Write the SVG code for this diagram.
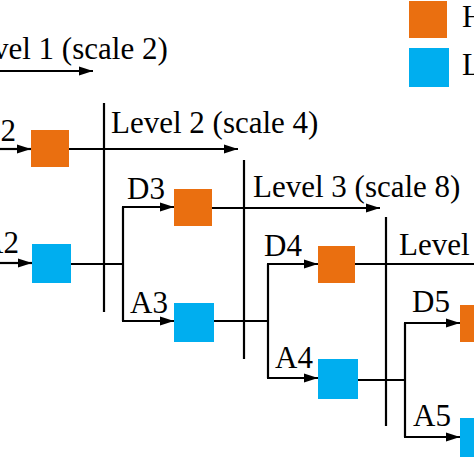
<svg xmlns="http://www.w3.org/2000/svg" width="474" height="474" viewBox="0 0 474 474">
<style>
text{font-family:"Liberation Serif","Times New Roman",serif;font-size:31px;fill:#000}
.hi{fill:#EA6F10}
.lo{fill:#00AEEF}
.ln{stroke:#000;stroke-width:2.2;fill:none}
.ar{stroke:#000;stroke-width:2.2;fill:none;marker-end:url(#ah)}
</style>
<defs>
<marker id="ah" markerUnits="userSpaceOnUse" markerWidth="14" markerHeight="10" refX="14" refY="5" orient="auto">
<path d="M0,0.5 L14,5 L0,9.5 z" fill="#000"/>
</marker>
</defs>
<g id="connectors">
<line class="ar" x1="0" y1="71" x2="93" y2="71"/>
<line class="ar" x1="0" y1="149" x2="31" y2="149"/>
<line class="ar" x1="0" y1="263" x2="32" y2="263"/>
<line class="ar" x1="69" y1="149" x2="238" y2="149"/>
<line class="ln" x1="104" y1="103" x2="104" y2="312"/>
<line class="ln" x1="71" y1="264" x2="123" y2="264"/>
<line class="ln" x1="123" y1="207" x2="123" y2="321"/>
<line class="ar" x1="122" y1="207" x2="174" y2="207"/>
<line class="ar" x1="122" y1="321" x2="174" y2="321"/>
<line class="ar" x1="212" y1="208" x2="380" y2="208"/>
<line class="ln" x1="244" y1="160" x2="244" y2="359"/>
<line class="ln" x1="214" y1="321" x2="268" y2="321"/>
<line class="ln" x1="268" y1="264" x2="268" y2="378"/>
<line class="ar" x1="267" y1="264" x2="318" y2="264"/>
<line class="ar" x1="267" y1="378" x2="318" y2="378"/>
<line class="ln" x1="355" y1="264" x2="474" y2="264"/>
<line class="ln" x1="386" y1="217" x2="386" y2="426"/>
<line class="ln" x1="358" y1="380" x2="405" y2="380"/>
<line class="ln" x1="405" y1="323" x2="405" y2="437"/>
<line class="ar" x1="404" y1="323" x2="460" y2="323"/>
<line class="ar" x1="404" y1="437" x2="460" y2="437"/>
</g>
<g id="labels">
<text x="-7" y="59">vel 1 (scale 2)</text>
<text x="111" y="133">Level 2 (scale 4)</text>
<text x="253" y="197">Level 3 (scale 8)</text>
<text x="399" y="255">Level</text>
</g>
<g id="D2"><rect class="hi" x="31" y="130" width="38" height="37"/><text x="-22" y="141">D2</text></g>
<g id="A2"><rect class="lo" x="32" y="244" width="39" height="39"/><text x="-19" y="253">A2</text></g>
<g id="D3"><rect class="hi" x="174" y="189" width="38" height="37"/><text x="127" y="199">D3</text></g>
<g id="A3"><rect class="lo" x="174" y="303" width="40" height="39"/><text x="130" y="313">A3</text></g>
<g id="D4"><rect class="hi" x="318" y="246" width="37" height="37"/><text x="264" y="256">D4</text></g>
<g id="A4"><rect class="lo" x="318" y="359" width="40" height="40"/><text x="275" y="368">A4</text></g>
<g id="D5"><rect class="hi" x="460" y="305" width="20" height="37"/><text x="412" y="312">D5</text></g>
<g id="A5"><rect class="lo" x="460" y="418" width="20" height="39"/><text x="413" y="426">A5</text></g>
<g id="legend">
<rect class="hi" x="409" y="1" width="38" height="37"/>
<text x="462" y="27">H</text>
<rect class="lo" x="409" y="48" width="40" height="39"/>
<text x="462" y="75">L</text>
</g>
</svg>
